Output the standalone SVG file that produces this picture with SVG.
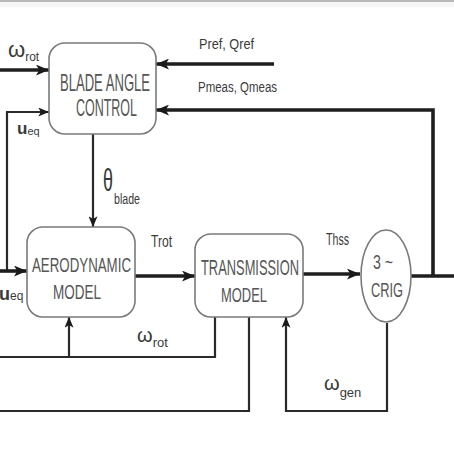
<svg xmlns="http://www.w3.org/2000/svg" width="454" height="454" viewBox="0 0 454 454">
<defs>
<marker id="ah" viewBox="0 0 12 10" refX="12" refY="5" markerWidth="13" markerHeight="11" markerUnits="userSpaceOnUse" orient="auto"><path d="M0,0 L12,5 L0,10 L3,5 z" fill="#1a1a1a"/></marker>
<marker id="ahs" viewBox="0 0 12 10" refX="12" refY="5" markerWidth="12" markerHeight="9" markerUnits="userSpaceOnUse" orient="auto"><path d="M0,0 L12,5 L0,10 L3,5 z" fill="#1a1a1a"/></marker>
<style>
.box{fill:#fff;stroke:#7a7a7a;stroke-width:1.6}
.t{font-family:"Liberation Sans",Arial,sans-serif;fill:#555}
.l{font-family:"Liberation Sans",Arial,sans-serif;fill:#3a3a3a}
.thick{stroke:#1e1e1e;stroke-width:3.6;fill:none}
.thin{stroke:#2a2a2a;stroke-width:2.2;fill:none}
</style>
</defs>
<rect x="0" y="0" width="454" height="454" fill="#fff"/>
<rect x="0" y="0" width="454" height="2" fill="#b8b8b8"/>
<rect x="0" y="2" width="454" height="5" fill="#f5f5f5"/>

<g id="connectors">
<path class="thick" d="M0,70 H49" marker-end="url(#ah)"/>
<path class="thin" d="M7,271 V112 H49" marker-end="url(#ahs)"/>
<path class="thick" d="M0,271 H27" marker-end="url(#ah)"/>
<path class="thick" d="M274,64 H156" marker-end="url(#ah)"/>
<path class="thick" d="M433,276 V110 H156" marker-end="url(#ah)"/>
<path class="thin" d="M93,134 V227" marker-end="url(#ahs)"/>
<path class="thick" d="M135,276 H195" marker-end="url(#ah)"/>
<path class="thick" d="M303,274 H360" marker-end="url(#ah)"/>
<path class="thick" d="M411,276 H454"/>
<path class="thin" d="M215,317 V357 H0"/>
<path class="thin" d="M69,357 V317" marker-end="url(#ahs)"/>
<path class="thin" d="M249,317 V411 H0"/>
<path class="thin" d="M387,323 V411 H286 V317" marker-end="url(#ahs)"/>
</g>

<g id="blade-angle-control">
<rect class="box" x="49" y="43" width="107" height="91" rx="16"/>
<text class="t" x="0" y="0" font-size="24" transform="translate(60,91) scale(0.54,1)" textLength="166.7" lengthAdjust="spacingAndGlyphs">BLADE ANGLE</text>
<text class="t" x="0" y="0" font-size="24" transform="translate(76,116) scale(0.6,1)" textLength="101.7" lengthAdjust="spacingAndGlyphs">CONTROL</text>
</g>

<g id="aerodynamic-model">
<rect class="box" x="27" y="227" width="108" height="90" rx="16"/>
<text class="t" x="32" y="272" font-size="21" textLength="99" lengthAdjust="spacingAndGlyphs">AERODYNAMIC</text>
<text class="t" x="53" y="299" font-size="21" textLength="48" lengthAdjust="spacingAndGlyphs">MODEL</text>
</g>

<g id="transmission-model">
<rect class="box" x="195" y="234" width="108" height="83" rx="16"/>
<text class="t" x="201" y="275" font-size="22" textLength="98" lengthAdjust="spacingAndGlyphs">TRANSMISSION</text>
<text class="t" x="221" y="302" font-size="21" textLength="46" lengthAdjust="spacingAndGlyphs">MODEL</text>
</g>

<g id="crig">
<ellipse class="box" cx="386" cy="276" rx="25" ry="46"/>
<text class="t" x="373" y="269" font-size="21" textLength="20" lengthAdjust="spacingAndGlyphs">3 ~</text>
<text class="t" x="371" y="297" font-size="21" textLength="32" lengthAdjust="spacingAndGlyphs">CRIG</text>
</g>

<g id="labels">
<text class="l" x="8" y="57" font-size="22">ω<tspan font-size="12" dy="4">rot</tspan></text>
<text class="l" x="17" y="134" font-size="17" font-weight="bold">u<tspan font-size="11" font-weight="normal" dy="1">eq</tspan></text>
<text class="l" x="199" y="49" font-size="14" textLength="55" lengthAdjust="spacingAndGlyphs">Pref, Qref</text>
<text class="l" x="198" y="92" font-size="14" textLength="79" lengthAdjust="spacingAndGlyphs">Pmeas, Qmeas</text>
<text class="l" x="103" y="191" font-size="32" textLength="10" lengthAdjust="spacingAndGlyphs">θ</text>
<text class="l" x="114" y="204" font-size="14" textLength="26" lengthAdjust="spacingAndGlyphs">blade</text>
<text class="l" x="151" y="247" font-size="16" textLength="21" lengthAdjust="spacingAndGlyphs">Trot</text>
<text class="l" x="-1" y="300" font-size="18" font-weight="bold">u<tspan font-size="12" font-weight="normal" dy="0">eq</tspan></text>
<text class="l" x="137" y="342" font-size="20">ω<tspan font-size="13" dy="5">rot</tspan></text>
<text class="l" x="326" y="245" font-size="16" textLength="23" lengthAdjust="spacingAndGlyphs">Thss</text>
<text class="l" x="324" y="390" font-size="20">ω<tspan font-size="13" dy="7">gen</tspan></text>
</g>
</svg>
